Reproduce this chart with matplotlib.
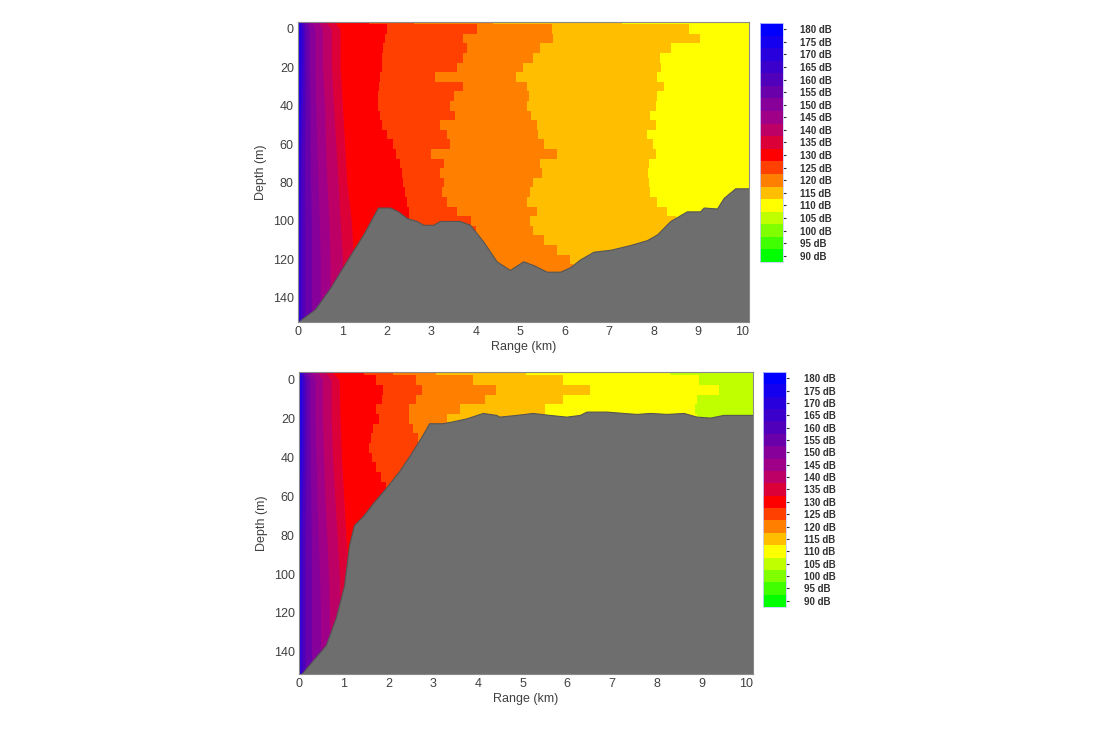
import matplotlib
matplotlib.use("Agg")
import matplotlib.pyplot as plt
from matplotlib.colors import ListedColormap, BoundaryNorm
from matplotlib.cm import ScalarMappable
from matplotlib.ticker import NullLocator

plt.rcParams["font.family"] = ["Liberation Sans", "DejaVu Sans"]

# ---- colour scale (dB) ----
levels = [90, 95, 100, 105, 110, 115, 120, 125, 130, 135,
          140, 145, 150, 155, 160, 165, 170, 175, 180]
level_colors = ["#00FF00", "#40FF00", "#80FF00", "#BFFF00", "#FFFF00",
                "#FFBF00", "#FF8000", "#FF4000", "#FF0000", "#DC0038",
                "#BC0066", "#A00088", "#860099", "#6A00AA", "#5000BB",
                "#3C00CC", "#2800DD", "#1400EE", "#0000FF"]
tick_labels = [f"{v} dB" for v in levels]

# ---- top panel ----
# row edges (m) for the stair-step contour boundaries
rows_top = [-4, -2.5, 2.5, 7.5, 12.5, 17.5, 22.5, 27.5, 32.5, 37.5, 42.5, 47.5,
            52.5, 57.5, 62.5, 67.5, 72.5, 77.5, 82.5, 87.5, 92.5, 97.5, 102.5,
            107.5, 112.5, 117.5, 122.5, 127.5, 155]
# range (km) where the level falls below each threshold
top_115 = [7.3, 8.8, 9.05, 8.4, 8.15, 8.17, 8.08, 8.23, 8.08, 8.05, 7.93, 8.05,
           7.85, 8.0, 8.05, 7.9, 7.87, 7.9, 7.93, 8.08, 8.3, 8.5, 8.6, 8.6,
           8.6, 8.6, 8.6, 8.6, 8.6]
top_120 = [4.4, 5.71, 5.75, 5.45, 5.3, 5.07, 4.9, 5.15, 5.2, 5.15, 5.25, 5.38,
           5.41, 5.53, 5.83, 5.45, 5.49, 5.3, 5.22, 5.15, 5.38, 5.22, 5.3, 5.53,
           5.83, 6.13, 6.2, 6.2, 6.2]
top_125 = [2.6, 4.02, 3.72, 3.8, 3.72, 3.57, 3.09, 3.72, 3.5, 3.42, 3.54, 3.2,
           3.36, 3.42, 3.0, 3.29, 3.2, 3.29, 3.24, 3.36, 3.57, 3.9, 4.0, 4.0,
           4.0, 4.0, 4.0, 4.0, 4.0]
top_130 = [1.6, 2.0, 1.95, 1.92, 1.9, 1.88, 1.85, 1.83, 1.8, 1.8, 1.85, 1.88,
           2.0, 2.14, 2.2, 2.3, 2.33, 2.37, 2.4, 2.45, 2.5, 2.5, 2.5, 2.5,
           2.5, 2.5, 2.5, 2.5, 2.5]
# smooth near-source contours
near_top = [-4, 0, 20, 40, 60, 80, 100, 120, 140, 155]
top_135 = [0.8, 0.95, 0.95, 1.0, 1.05, 1.1, 1.2, 1.25, 1.3, 1.3]
top_140 = [0.6, 0.75, 0.75, 0.8, 0.85, 0.9, 0.95, 1.0, 1.0, 1.0]
top_145 = [0.45, 0.55, 0.55, 0.6, 0.62, 0.65, 0.7, 0.72, 0.72, 0.72]
top_150 = [0.3, 0.38, 0.38, 0.4, 0.42, 0.45, 0.48, 0.5, 0.5, 0.5]
top_155 = [0.2, 0.25, 0.25, 0.27, 0.27, 0.28, 0.3, 0.3, 0.3, 0.3]
top_160 = [0.12, 0.17, 0.17, 0.17, 0.15, 0.15, 0.15, 0.15, 0.15, 0.15]
top_165 = [0.08, 0.12, 0.12, 0.1, 0.08, 0.07, 0.07, 0.07, 0.07, 0.07]
top_170 = [0.04, 0.07, 0.07, 0.06, 0.04, 0.035, 0.03, 0.03, 0.03, 0.03]
top_175 = [0.02, 0.03, 0.03, 0.025, 0.02, 0.015, 0.015, 0.015, 0.015, 0.015]

bathy_top_range = [0, 0.05, 0.38, 0.72, 1.17, 1.47, 1.80, 2.07, 2.25, 2.45,
                   2.67, 2.82, 3.04, 3.2, 3.42, 3.64, 3.87, 4.17, 4.47, 4.77,
                   5.07, 5.3, 5.6, 5.9, 6.13, 6.35, 6.65, 7.03, 7.48, 7.85,
                   8.08, 8.38, 8.75, 9.05, 9.13, 9.43, 9.58, 9.84, 10.15]
bathy_top_depth = [153, 151.6, 146, 135, 118, 107, 93, 93, 95, 98.5,
                   100, 102, 102, 100, 100, 100, 102, 110.7, 121, 125.5,
                   121, 123, 126.4, 126.4, 124, 120, 116, 115, 112.5, 110,
                   107, 100, 95, 95, 93, 93.5, 88, 83, 83]

# ---- bottom panel ----
rows_bot = [-4, -2.5, 2.5, 7.5, 12.5, 17.5, 22.5, 27.5, 32.5, 37.5, 42.5, 47.5,
            52.5, 57.5, 155]
bot_110 = [8.3, 8.95, 9.4, 8.9, 8.85, 8.9, 8.9, 8.9, 8.9, 8.9, 8.9, 8.9,
           8.9, 8.9, 8.9]
bot_115 = [5.08, 5.9, 6.5, 5.9, 5.5, 5.5, 5.5, 5.5, 5.5, 5.5, 5.5, 5.5,
           5.5, 5.5, 5.5]
bot_120 = [3.06, 3.9, 4.4, 4.15, 3.6, 3.3, 3.3, 3.3, 3.3, 3.3, 3.3, 3.3,
           3.3, 3.3, 3.3]
bot_125 = [2.1, 2.62, 2.76, 2.62, 2.47, 2.47, 2.54, 2.65, 2.7, 2.7, 2.7, 2.7,
           2.7, 2.7, 2.7]
bot_130 = [1.45, 1.72, 1.87, 1.85, 1.72, 1.8, 1.66, 1.61, 1.57, 1.64, 1.72,
           1.83, 1.94, 2.0, 2.0]
near_bot = [-4, 0, 20, 40, 60, 80, 100, 120, 140, 155]
bot_135 = [0.75, 0.9, 0.92, 0.95, 1.0, 1.05, 1.1, 1.15, 1.2, 1.2]
bot_140 = [0.58, 0.72, 0.72, 0.75, 0.8, 0.85, 0.9, 0.92, 0.95, 0.95]
bot_145 = [0.42, 0.52, 0.52, 0.55, 0.58, 0.62, 0.66, 0.68, 0.7, 0.7]
bot_150 = [0.28, 0.36, 0.36, 0.38, 0.4, 0.43, 0.46, 0.48, 0.48, 0.48]
bot_155 = [0.18, 0.24, 0.24, 0.25, 0.26, 0.27, 0.28, 0.28, 0.28, 0.28]
bot_160 = [0.11, 0.16, 0.16, 0.16, 0.15, 0.14, 0.14, 0.14, 0.14, 0.14]
bot_165 = [0.07, 0.11, 0.11, 0.1, 0.08, 0.07, 0.07, 0.07, 0.07, 0.07]
bot_170 = [0.04, 0.06, 0.06, 0.05, 0.04, 0.035, 0.03, 0.03, 0.03, 0.03]
bot_175 = [0.02, 0.03, 0.03, 0.025, 0.02, 0.015, 0.015, 0.015, 0.015, 0.015]

bathy_bot_range = [0, 0.07, 0.6, 0.82, 1.01, 1.12, 1.23, 1.42, 1.68, 1.94,
                   2.24, 2.53, 2.76, 2.91, 3.2, 3.4, 3.74, 4.11, 4.41, 4.48,
                   4.86, 5.22, 5.6, 5.98, 6.28, 6.43, 6.88, 7.25, 7.55, 7.85,
                   8.22, 8.6, 8.89, 9.19, 9.49, 10.15]
bathy_bot_depth = [153, 151, 136.6, 122.7, 105.7, 85, 74.7, 70.4, 62.7, 55.7,
                   47, 37, 28.4, 22.3, 22.3, 21.5, 19.8, 17, 18, 18.9,
                   18, 17, 18, 18.9, 18, 16.3, 16.3, 17, 17.5, 17,
                   17.5, 17, 18.9, 19.4, 18, 18]

color_of = dict(zip(levels, level_colors))
seabed = "#6E6E6E"
text_col = "#404040"


def draw_panel(ax, background, stepped, rows, smooth, near, brange, bdepth, ylim):
    ax.set_facecolor(color_of[background])
    # stepped contours (lowest level first, higher levels painted on top)
    for lev, xs in stepped:
        ax.fill_betweenx(rows, 0, xs, step="post", color=color_of[lev], lw=0)
    for lev, xs in smooth:
        ax.fill_betweenx(near, 0, xs, color=color_of[lev], lw=0)
    ax.fill_between(brange, bdepth, 200, color=seabed, edgecolor="#555555", lw=0.8)
    ax.set_xlim(0, 10.15)
    ax.set_ylim(*ylim)
    ax.set_xticks(range(0, 11))
    ax.set_yticks(range(0, 141, 20))
    ax.tick_params(length=0, pad=3, labelsize=9, colors=text_col)
    ax.set_xlabel("Range (km)", fontsize=9, color=text_col, labelpad=2)
    ax.set_ylabel("Depth (m)", fontsize=9, color=text_col, labelpad=4)
    for s in ax.spines.values():
        s.set_color("#8a8a8a")
        s.set_linewidth(0.8)


def draw_cbar(fig, rect):
    cax = fig.add_axes(rect)
    cmap = ListedColormap(level_colors)
    bounds = [v - 2.5 for v in levels] + [levels[-1] + 2.5]
    norm = BoundaryNorm(bounds, cmap.N)
    cb = fig.colorbar(ScalarMappable(norm=norm, cmap=cmap), cax=cax, ticks=levels)
    cb.ax.set_yticklabels(tick_labels)
    cb.ax.yaxis.set_minor_locator(NullLocator())
    cb.outline.set_edgecolor("#c8d0ff")
    cb.outline.set_linewidth(0.6)
    cax.tick_params(which="major", length=2.5, width=0.8, pad=10, labelsize=7,
                    colors="#303030")
    for t in cax.get_yticklabels():
        t.set_fontweight("bold")


fig = plt.figure(figsize=(11, 7.33), dpi=100)

ax1 = fig.add_axes([0.2709, 0.5607, 0.41, 0.4093])
draw_panel(ax1, 110,
           [(115, top_115), (120, top_120), (125, top_125), (130, top_130)], rows_top,
           [(135, top_135), (140, top_140), (145, top_145), (150, top_150), (155, top_155),
            (160, top_160), (165, top_165), (170, top_170), (175, top_175)], near_top,
           bathy_top_range, bathy_top_depth, (152.6, -3.6))

ax2 = fig.add_axes([0.2718, 0.0805, 0.4127, 0.412])
draw_panel(ax2, 105,
           [(110, bot_110), (115, bot_115), (120, bot_120), (125, bot_125), (130, bot_130)], rows_bot,
           [(135, bot_135), (140, bot_140), (145, bot_145), (150, bot_150), (155, bot_155),
            (160, bot_160), (165, bot_165), (170, bot_170), (175, bot_175)], near_bot,
           bathy_bot_range, bathy_bot_depth, (151.5, -4.1))

draw_cbar(fig, [0.6909, 0.6426, 0.0209, 0.326])
draw_cbar(fig, [0.6936, 0.1719, 0.0213, 0.3206])

fig.savefig("out.png", dpi=100, facecolor="white")
